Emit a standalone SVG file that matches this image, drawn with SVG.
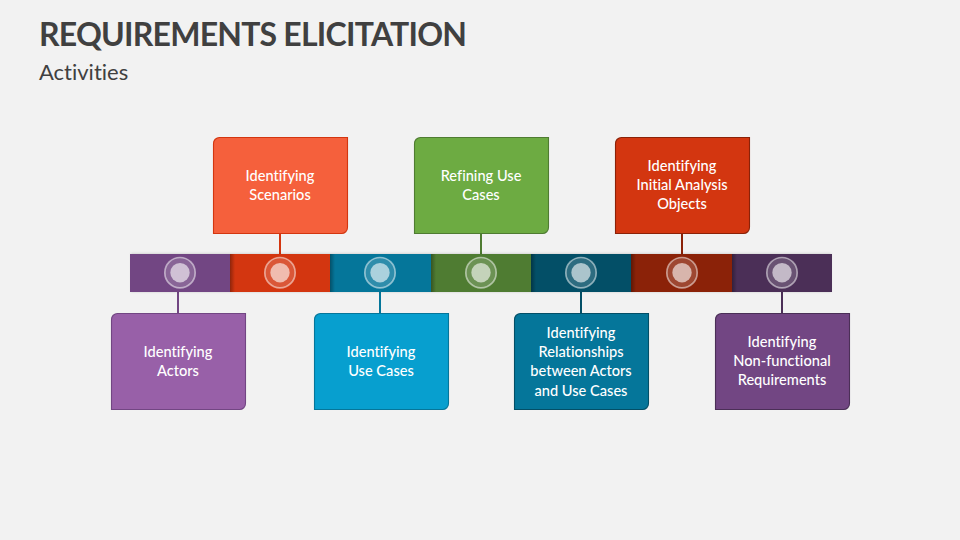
<svg xmlns="http://www.w3.org/2000/svg" width="960" height="540" viewBox="0 0 960 540">
<style>
text{font-family:"Lato","Open Sans","Liberation Sans",sans-serif;font-variant-ligatures:none}
.t{font-size:14.6px;fill:#fff;text-anchor:middle;font-weight:500}
.r{fill:none;stroke:#fff;stroke-opacity:.5;stroke-width:1.7}
.h{fill:#fff;fill-opacity:.17}
.d{fill:#fff;fill-opacity:.6}
.b{stroke-width:1.1}
.c{stroke-width:2;fill:none}
</style>
<defs>
<linearGradient id="sh" x1="0" x2="1" y1="0" y2="0"><stop offset="0" stop-color="#000" stop-opacity=".32"/><stop offset="1" stop-color="#000" stop-opacity="0"/></linearGradient>
<filter id="soft" x="-2%" y="-20%" width="104%" height="140%"><feGaussianBlur stdDeviation="1.2"/></filter>
<path id="box" d="M6 0H134V90a6 6 0 0 1-6 6H0V6a6 6 0 0 1 6-6Z"/>
</defs>
<rect width="960" height="540" fill="#f2f2f2"/>
<text x="39" y="46" font-size="32" font-weight="700" fill="#404040" textLength="428" lengthAdjust="spacing">REQUIREMENTS ELICITATION</text>
<text x="39" y="80" font-size="22" fill="#404040">Activities</text>
<g id="connectors">
<path class="c" stroke="#d33610" d="M280 234V254"/>
<path class="c" stroke="#4f7c32" d="M481 234V254"/>
<path class="c" stroke="#8b2208" d="M682 234V254"/>
<path class="c" stroke="#724683" d="M178 292V313"/>
<path class="c" stroke="#05769a" d="M380 292V313"/>
<path class="c" stroke="#034f67" d="M581 292V313"/>
<path class="c" stroke="#4b2f57" d="M782 292V313"/>
</g>
<g id="bar">
<rect x="131" y="253.500" width="700" height="38.500" fill="#000" fill-opacity=".16" filter="url(#soft)"/>
<rect x="130" y="254" width="100" height="38" fill="#724683"/>
<rect x="230" y="254" width="100" height="38" fill="#d33610"/>
<rect x="330" y="254" width="101" height="38" fill="#05769a"/>
<rect x="431" y="254" width="100" height="38" fill="#4f7c32"/>
<rect x="531" y="254" width="100" height="38" fill="#034f67"/>
<rect x="631" y="254" width="101" height="38" fill="#8b2208"/>
<rect x="732" y="254" width="100" height="38" fill="#4b2f57"/>
<rect x="230" y="254" width="5" height="38" fill="url(#sh)"/>
<rect x="330" y="254" width="5" height="38" fill="url(#sh)"/>
<rect x="431" y="254" width="5" height="38" fill="url(#sh)"/>
<rect x="531" y="254" width="5" height="38" fill="url(#sh)"/>
<rect x="631" y="254" width="5" height="38" fill="url(#sh)"/>
<rect x="732" y="254" width="5" height="38" fill="url(#sh)"/>
</g>
<g id="dot1"><circle class="h" cx="180" cy="272.700" r="15.200"/><circle class="r" cx="180" cy="272.700" r="15.200"/><circle class="d" cx="180" cy="272.700" r="9.700"/></g>
<g id="dot2"><circle class="h" cx="280" cy="272.700" r="15.200"/><circle class="r" cx="280" cy="272.700" r="15.200"/><circle class="d" cx="280" cy="272.700" r="9.700"/></g>
<g id="dot3"><circle class="h" cx="380" cy="272.700" r="15.200"/><circle class="r" cx="380" cy="272.700" r="15.200"/><circle class="d" cx="380" cy="272.700" r="9.700"/></g>
<g id="dot4"><circle class="h" cx="481" cy="272.700" r="15.200"/><circle class="r" cx="481" cy="272.700" r="15.200"/><circle class="d" cx="481" cy="272.700" r="9.700"/></g>
<g id="dot5"><circle class="h" cx="581" cy="272.700" r="15.200"/><circle class="r" cx="581" cy="272.700" r="15.200"/><circle class="d" cx="581" cy="272.700" r="9.700"/></g>
<g id="dot6"><circle class="h" cx="682" cy="272.700" r="15.200"/><circle class="r" cx="682" cy="272.700" r="15.200"/><circle class="d" cx="682" cy="272.700" r="9.700"/></g>
<g id="dot7"><circle class="h" cx="782" cy="272.700" r="15.200"/><circle class="r" cx="782" cy="272.700" r="15.200"/><circle class="d" cx="782" cy="272.700" r="9.700"/></g>
<g id="n1"><use href="#box" class="b" x="111.500" y="313.500" fill="#9860a8" stroke="#724683"/><text class="t" x="178" y="357">Identifying</text><text class="t" x="178" y="376">Actors</text></g>
<g id="n2"><use href="#box" class="b" x="213.500" y="137.500" fill="#f5603c" stroke="#d33610"/><text class="t" x="280" y="181">Identifying</text><text class="t" x="280" y="200">Scenarios</text></g>
<g id="n3"><use href="#box" class="b" x="314.500" y="313.500" fill="#079fcf" stroke="#05769a"/><text class="t" x="381" y="357">Identifying</text><text class="t" x="381" y="376">Use Cases</text></g>
<g id="n4"><use href="#box" class="b" x="414.500" y="137.500" fill="#6dab42" stroke="#4f7c32"/><text class="t" x="481" y="181">Refining Use</text><text class="t" x="481" y="200">Cases</text></g>
<g id="n5"><use href="#box" class="b" x="514.500" y="313.500" fill="#05769a" stroke="#034f67"/><text class="t" x="581" y="338">Identifying</text><text class="t" x="581" y="357">Relationships</text><text class="t" x="581" y="376">between Actors</text><text class="t" x="581" y="396">and Use Cases</text></g>
<g id="n6"><use href="#box" class="b" x="615.500" y="137.500" fill="#d33610" stroke="#8b2208"/><text class="t" x="682" y="171">Identifying</text><text class="t" x="682" y="190">Initial Analysis</text><text class="t" x="682" y="209">Objects</text></g>
<g id="n7"><use href="#box" class="b" x="715.500" y="313.500" fill="#724683" stroke="#4b2f57"/><text class="t" x="782" y="347">Identifying</text><text class="t" x="782" y="366">Non-functional</text><text class="t" x="782" y="385">Requirements</text></g>
</svg>
